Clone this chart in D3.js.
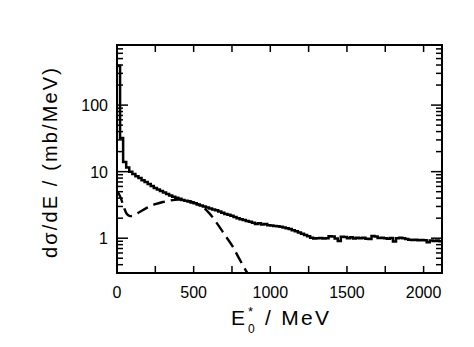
<!DOCTYPE html>
<html><head><meta charset="utf-8">
<script src="https://cdn.jsdelivr.net/npm/d3@7"></script>
<style>body{margin:0;background:#fff}svg{display:block}</style>
</head><body>
<svg id="c" width="474" height="347"></svg>
<script>
// ---- data ----
const binWidth = 20; // MeV
const histValues = [
  390, 32, 14, 11.5, 10, 9.2, 8.5, 8.0, 7.4, 7.0,
  6.5, 6.1, 5.7, 5.4, 5.1, 4.85, 4.6, 4.4, 4.2, 4.05,
  3.9, 3.75, 3.65, 3.55, 3.45, 3.35, 3.2, 3.1, 3.0, 2.9,
  2.8, 2.7, 2.62, 2.52, 2.42, 2.32, 2.25, 2.17, 2.08, 2.0,
  1.93, 1.87, 1.82, 1.76, 1.70, 1.64, 1.68, 1.60, 1.63, 1.57,
  1.55, 1.53, 1.51, 1.48, 1.45, 1.41, 1.37, 1.32, 1.27, 1.22,
  1.17, 1.12, 1.07, 1.02, 0.99, 1.0, 1.01, 0.99, 1.0, 1.07,
  1.06, 0.99, 0.91, 1.05, 1.04, 1.0, 1.03, 0.99, 1.02, 1.0,
  1.02, 0.98, 0.97, 1.08, 1.06, 1.01, 1.02, 1.0, 0.98, 1.01,
  0.89, 1.0, 1.02, 1.0, 0.97, 0.95, 0.94, 0.95, 0.93, 0.94,
  0.93, 0.87, 0.92, 0.91, 0.92, 0.90
];
const curveE = [5, 25, 45, 65, 85, 110, 150, 200, 250, 300, 350, 400, 450, 500, 550, 600, 650, 700, 750, 800, 850, 880];
const curveV = [5.0, 4.0, 2.9, 2.3, 2.15, 2.2, 2.5, 2.9, 3.25, 3.5, 3.7, 3.8, 3.7, 3.45, 3.05, 2.4, 1.7, 1.15, 0.78, 0.48, 0.30, 0.24];
const xTickValues = [0, 250, 500, 750, 1000, 1250, 1500, 1750, 2000];
const xLabelValues = [0, 500, 1000, 1500, 2000];
const yLabelValues = [1, 10, 100];
const xDomain = [0, 2120];
const yDomain = [0.3, 800];

// ---- layout ----
const W = 474, H = 347;
const m = {left: 117, right: 32, top: 45, bottom: 74};
const svg = d3.select("#c");
const x = d3.scaleLinear().domain(xDomain).range([m.left, W - m.right]);
const y = d3.scaleLog().domain(yDomain).range([H - m.bottom, m.top]);
const x0 = m.left, x1 = W - m.right, y0 = H - m.bottom, y1 = m.top;
const font = "'Liberation Sans', Arial, Helvetica, sans-serif";

svg.append("defs").append("clipPath").attr("id", "clip")
  .append("rect").attr("x", x0).attr("y", y1).attr("width", x1 - x0).attr("height", y0 - y1);

// histogram
const histPts = histValues.map((v, i) => [i * binWidth, v]);
histPts.push([histValues.length * binWidth, histValues[histValues.length - 1]]);
svg.append("path")
  .attr("clip-path", "url(#clip)")
  .attr("d", d3.line().x(d => x(d[0])).y(d => y(d[1])).curve(d3.curveStepAfter)(histPts))
  .attr("fill", "none").attr("stroke", "#000").attr("stroke-width", 2.5);

// dashed curve
const cPts = curveE.map((e, i) => [e, curveV[i]]);
svg.append("path")
  .attr("clip-path", "url(#clip)")
  .attr("d", d3.line().x(d => x(d[0])).y(d => y(d[1])).curve(d3.curveCatmullRom)(cPts))
  .attr("fill", "none").attr("stroke", "#000").attr("stroke-width", 2.4)
  .attr("stroke-dasharray", "12,6");

// frame
svg.append("rect").attr("x", x0).attr("y", y1).attr("width", x1 - x0).attr("height", y0 - y1)
  .attr("fill", "none").attr("stroke", "#000").attr("stroke-width", 2);

// x ticks (bottom & top, inward)
const tg = svg.append("g").attr("stroke", "#000").attr("stroke-width", 1.5);
xTickValues.forEach(v => {
  tg.append("line").attr("x1", x(v)).attr("x2", x(v)).attr("y1", y0).attr("y2", y0 - 7);
  tg.append("line").attr("x1", x(v)).attr("x2", x(v)).attr("y1", y1).attr("y2", y1 + 7);
});
// y ticks (left & right, inward)
y.ticks().filter(v => v >= yDomain[0] && v < yDomain[1]).forEach(v => {
  const major = yLabelValues.includes(v);
  const len = major ? 11 : 6;
  tg.append("line").attr("x1", x0).attr("x2", x0 + len).attr("y1", y(v)).attr("y2", y(v));
  tg.append("line").attr("x1", x1).attr("x2", x1 - len).attr("y1", y(v)).attr("y2", y(v));
});

// tick labels
svg.append("g").selectAll("text").data(xLabelValues).join("text")
  .attr("x", d => x(d)).attr("y", y0 + 25).attr("text-anchor", "middle")
  .attr("font-family", font).attr("font-size", 16).text(d => d);
svg.append("g").selectAll("text").data(yLabelValues).join("text")
  .attr("x", x0 - 9).attr("y", d => y(d) + 6).attr("text-anchor", "end")
  .attr("font-family", font).attr("font-size", 16).text(d => d);

// axis titles
const xt = svg.append("g").attr("font-family", font);
xt.append("text").attr("x", 231).attr("y", 325).attr("font-size", 21).text("E");
xt.append("text").attr("x", 248).attr("y", 316).attr("font-size", 13).text("*");
xt.append("text").attr("x", 248).attr("y", 333).attr("font-size", 12).text("0");
xt.append("text").attr("x", 265).attr("y", 325).attr("font-size", 21)
  .attr("textLength", 64).attr("lengthAdjust", "spacing").text("/ MeV");

svg.append("text").attr("font-family", font).attr("font-size", 20)
  .attr("text-anchor", "middle")
  .attr("transform", "translate(57,163) rotate(-90)")
  .attr("textLength", 190).attr("lengthAdjust", "spacing")
  .text("dσ/dE / (mb/MeV)");
</script>
</body></html>
